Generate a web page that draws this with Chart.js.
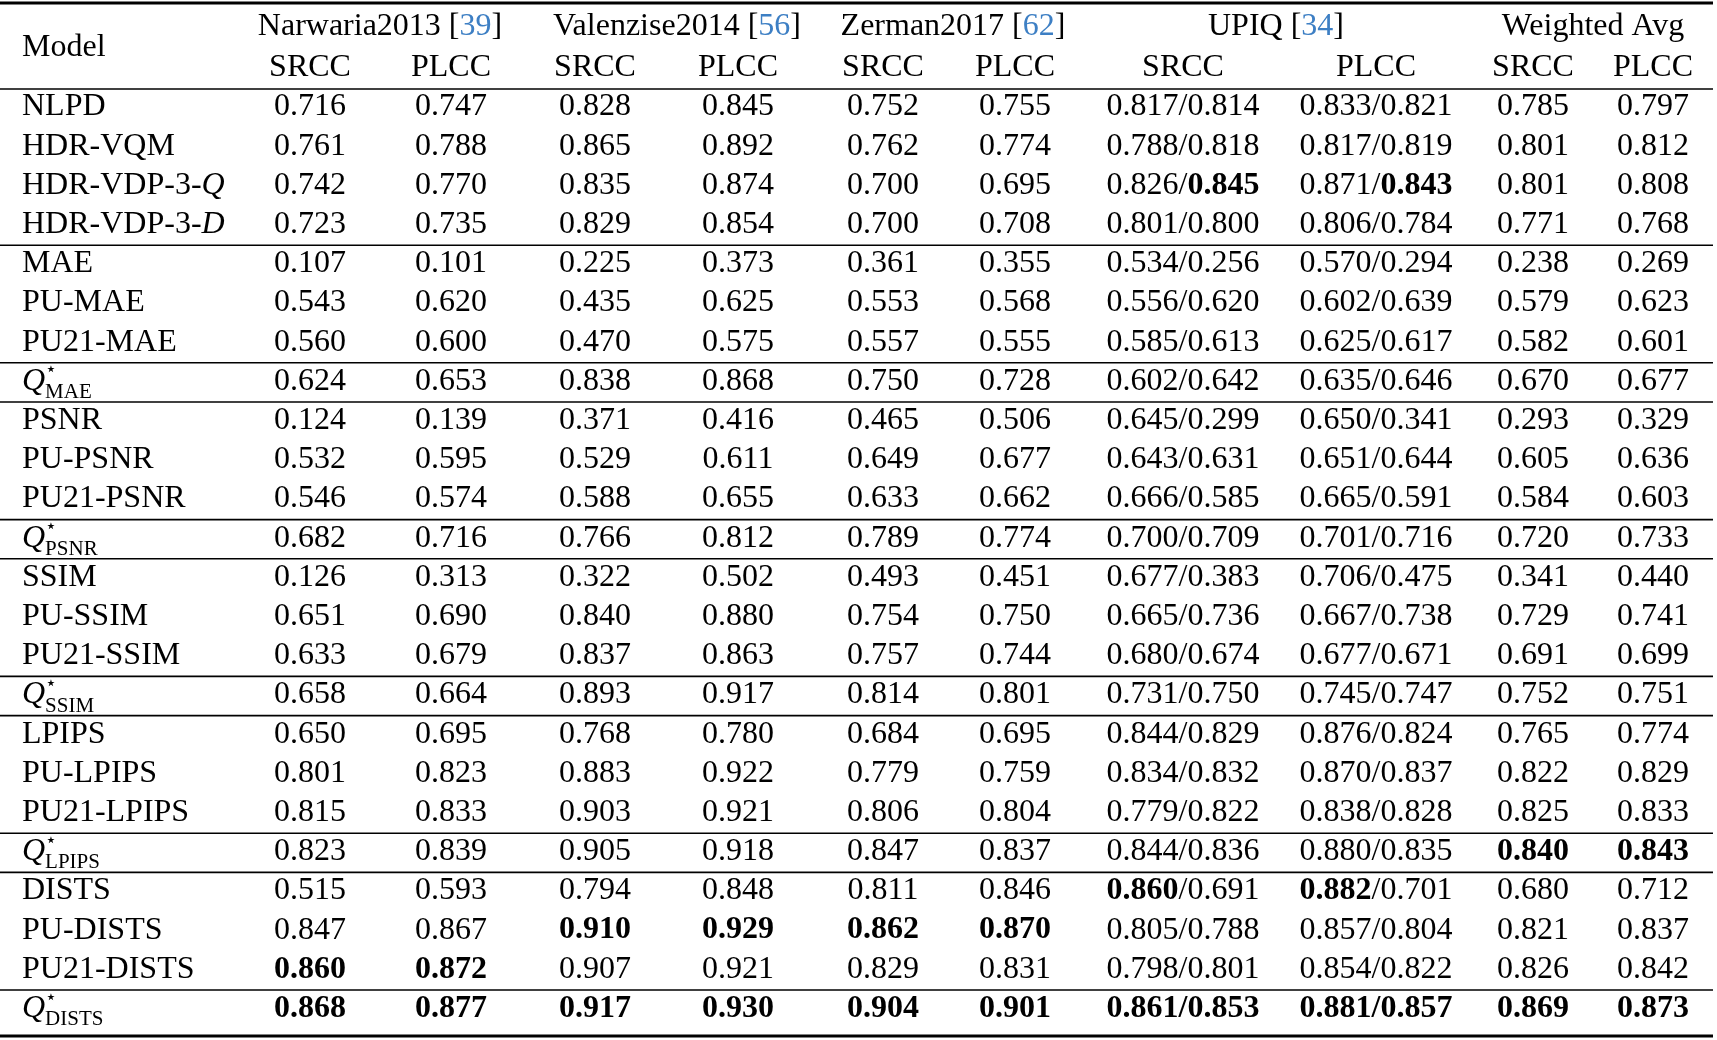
<!DOCTYPE html>
<html><head><meta charset="utf-8">
<script src="https://cdn.jsdelivr.net/npm/chart.js@4"></script>
<style>html,body{margin:0;padding:0;background:#fff}#wrap{width:1717px;height:1040px}</style>
</head><body><div id="wrap"><canvas id="c" width="1717" height="1040"></canvas></div>
<script>
// Row labels ("Q*" entries get special rendering with subscript)
const models = ["NLPD","HDR-VQM","HDR-VDP-3-|Q","HDR-VDP-3-|D","MAE","PU-MAE","PU21-MAE","Q*MAE",
 "PSNR","PU-PSNR","PU21-PSNR","Q*PSNR","SSIM","PU-SSIM","PU21-SSIM","Q*SSIM",
 "LPIPS","PU-LPIPS","PU21-LPIPS","Q*LPIPS","DISTS","PU-DISTS","PU21-DISTS","Q*DISTS"];
const datasets = [["Narwaria2013 ","39"],["Valenzise2014 ","56"],["Zerman2017 ","62"],["UPIQ ","34"],["Weighted Avg",""]];
const metrics = ["SRCC","PLCC"];
// "!" marks a bold value
const narSRCC = ["0.716","0.761","0.742","0.723","0.107","0.543","0.560","0.624","0.124","0.532","0.546","0.682","0.126","0.651","0.633","0.658","0.650","0.801","0.815","0.823","0.515","0.847","!0.860","!0.868"];
const narPLCC = ["0.747","0.788","0.770","0.735","0.101","0.620","0.600","0.653","0.139","0.595","0.574","0.716","0.313","0.690","0.679","0.664","0.695","0.823","0.833","0.839","0.593","0.867","!0.872","!0.877"];
const valSRCC = ["0.828","0.865","0.835","0.829","0.225","0.435","0.470","0.838","0.371","0.529","0.588","0.766","0.322","0.840","0.837","0.893","0.768","0.883","0.903","0.905","0.794","!0.910","0.907","!0.917"];
const valPLCC = ["0.845","0.892","0.874","0.854","0.373","0.625","0.575","0.868","0.416","0.611","0.655","0.812","0.502","0.880","0.863","0.917","0.780","0.922","0.921","0.918","0.848","!0.929","0.921","!0.930"];
const zerSRCC = ["0.752","0.762","0.700","0.700","0.361","0.553","0.557","0.750","0.465","0.649","0.633","0.789","0.493","0.754","0.757","0.814","0.684","0.779","0.806","0.847","0.811","!0.862","0.829","!0.904"];
const zerPLCC = ["0.755","0.774","0.695","0.708","0.355","0.568","0.555","0.728","0.506","0.677","0.662","0.774","0.451","0.750","0.744","0.801","0.695","0.759","0.804","0.837","0.846","!0.870","0.831","!0.901"];
const upiqSRCC = ["0.817/0.814","0.788/0.818","0.826/!0.845","0.801/0.800","0.534/0.256","0.556/0.620","0.585/0.613","0.602/0.642","0.645/0.299","0.643/0.631","0.666/0.585","0.700/0.709","0.677/0.383","0.665/0.736","0.680/0.674","0.731/0.750","0.844/0.829","0.834/0.832","0.779/0.822","0.844/0.836","!0.860/0.691","0.805/0.788","0.798/0.801","!0.861/!0.853"];
const upiqPLCC = ["0.833/0.821","0.817/0.819","0.871/!0.843","0.806/0.784","0.570/0.294","0.602/0.639","0.625/0.617","0.635/0.646","0.650/0.341","0.651/0.644","0.665/0.591","0.701/0.716","0.706/0.475","0.667/0.738","0.677/0.671","0.745/0.747","0.876/0.824","0.870/0.837","0.838/0.828","0.880/0.835","!0.882/0.701","0.857/0.804","0.854/0.822","!0.881/!0.857"];
const avgSRCC = ["0.785","0.801","0.801","0.771","0.238","0.579","0.582","0.670","0.293","0.605","0.584","0.720","0.341","0.729","0.691","0.752","0.765","0.822","0.825","!0.840","0.680","0.821","0.826","!0.869"];
const avgPLCC = ["0.797","0.812","0.808","0.768","0.269","0.623","0.601","0.677","0.329","0.636","0.603","0.733","0.440","0.741","0.699","0.751","0.774","0.829","0.833","!0.843","0.712","0.837","0.842","!0.873"];
const columns = [narSRCC,narPLCC,valSRCC,valPLCC,zerSRCC,zerPLCC,upiqSRCC,upiqPLCC,avgSRCC,avgPLCC];
const ruleAfter = [3,6,7,10,11,14,15,18,19,22];

// layout (pixels)
const colX = [310,451,595,738,883,1015,1183,1376,1533,1653];
const groupX = [380,677,953,1276,1593];
const FONT = '"Liberation Serif", "DejaVu Serif", serif';
const FS = 32;

const tablePlugin = {
  id:'table',
  afterDraw(chart){
    const ctx = chart.ctx, ys = chart.scales.y;
    ctx.save();
    ctx.textBaseline = 'middle';
    ctx.fillStyle = '#000';
    const f = (w,s,st)=> `${st||''} ${w||''} ${s||FS}px ${FONT}`;
    // header
    ctx.font = f(); ctx.textAlign='left';
    ctx.fillText('Model', 22, 48);
    datasets.forEach((d,i)=>{
      ctx.font = f();
      const t1 = d[0], t2 = d[1] ? '['+d[1]+']' : '';
      const w1 = ctx.measureText(t1).width;
      const w = w1 + ctx.measureText(t2).width;
      let x = groupX[i] - w/2;
      ctx.textAlign='left';
      ctx.fillText(t1, x, 27);
      if (d[1]) {
        x += w1;
        ctx.fillText('[', x, 27); x += ctx.measureText('[').width;
        ctx.fillStyle = '#3d7fc4'; ctx.fillText(d[1], x, 27); x += ctx.measureText(d[1]).width;
        ctx.fillStyle = '#000'; ctx.fillText(']', x, 27);
      }
    });
    ctx.textAlign='center';
    colX.forEach((x,i)=>ctx.fillText(metrics[i%2], x, 68));
    // rows
    models.forEach((m,r)=>{
      const y = ys.getPixelForValue(r);
      ctx.textAlign='left';
      if (m.startsWith('Q*')) {
        ctx.font = f('', FS, 'italic'); ctx.fillText('Q', 22, y);
        const wq = ctx.measureText('Q').width;
        ctx.font = f('', 19); ctx.fillText('\u22C6', 22+wq, y-11);
        ctx.font = f('', 21); ctx.fillText(m.slice(2), 22+wq, y+11);
      } else if (m.includes('|')) {
        const [a,b] = m.split('|');
        ctx.font = f(); ctx.fillText(a, 22, y);
        const wa = ctx.measureText(a).width;
        ctx.font = f('', FS, 'italic'); ctx.fillText(b, 22+wa, y);
      } else { ctx.font = f(); ctx.fillText(m, 22, y); }
      columns.forEach((col,c)=>{
        const parts = col[r].split('/').map(p=>({bold:p[0]==='!', t:p.replace('!','')}));
        const segs = [];
        parts.forEach((p,k)=>{ if(k>0) segs.push({bold:parts[k-1].bold&&p.bold, t:'/'}); segs.push(p); });
        let total = 0;
        segs.forEach(s=>{ ctx.font = f(s.bold?'bold':''); s.w = ctx.measureText(s.t).width; total += s.w; });
        let x = colX[c] - total/2;
        segs.forEach(s=>{ ctx.font = f(s.bold?'bold':''); ctx.fillText(s.t, x, y); x += s.w; });
      });
    });
    // rules
    ctx.strokeStyle = '#000';
    const hline=(y,w)=>{ctx.lineWidth=w;ctx.beginPath();ctx.moveTo(0,y);ctx.lineTo(1713,y);ctx.stroke();};
    hline(3,3);
    hline(89,1.6);
    ruleAfter.forEach(r=>hline((ys.getPixelForValue(r)+ys.getPixelForValue(r+1))/2+1,1.6));
    hline(1036,3);
    ctx.restore();
  }
};

new Chart(document.getElementById('c'), {
  type:'scatter',
  data:{datasets:[{data: models.map((m,i)=>({x:0,y:i})), pointRadius:0}]},
  options:{
    responsive:false, animation:false, devicePixelRatio:1,
    layout:{padding:0},
    plugins:{legend:{display:false},tooltip:{enabled:false}},
    scales:{
      x:{display:false,min:0,max:1},
      y:{display:false,reverse:true,min:-107/39.2,max:(1040-107)/39.2}
    }
  },
  plugins:[tablePlugin]
});
</script></body></html>
